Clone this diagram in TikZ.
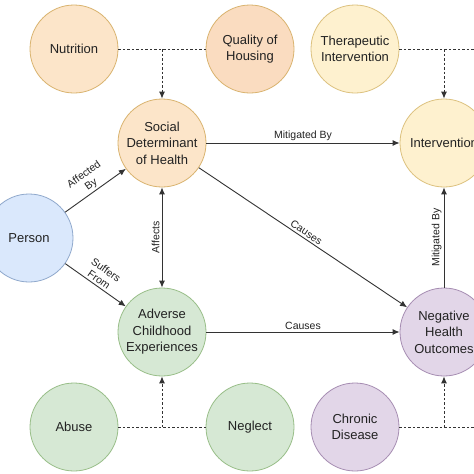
\documentclass[tikz,border=0pt]{standalone}
\usepackage{fontspec}
\setmainfont{Liberation Sans}
\usetikzlibrary{arrows.meta}
\definecolor{orfill}{HTML}{FCE5C9}
\definecolor{orpink}{HTML}{FADCC0}
\definecolor{ordraw}{HTML}{D9B36E}
\definecolor{yefill}{HTML}{FEF1CF}
\definecolor{yedraw}{HTML}{DCC17E}
\definecolor{blfill}{HTML}{DAE8FC}
\definecolor{bldraw}{HTML}{8FA8CC}
\definecolor{grfill}{HTML}{D6E8D4}
\definecolor{grdraw}{HTML}{98BE88}
\definecolor{pufill}{HTML}{E2D6E8}
\definecolor{pudraw}{HTML}{A68DB2}
\definecolor{ink}{HTML}{222222}
\definecolor{edge}{HTML}{333333}
\tikzset{
  circ/.style={circle, minimum size=88pt, inner sep=0pt, line width=0.8pt, align=center,
    text=ink, font=\fontsize{13}{16.5}\selectfont},
  cor/.style={circ, fill=orfill, draw=ordraw},
  corp/.style={circ, fill=orpink, draw=ordraw},
  cye/.style={circ, fill=yefill, draw=yedraw},
  cbl/.style={circ, fill=blfill, draw=bldraw},
  cgr/.style={circ, fill=grfill, draw=grdraw},
  cpu/.style={circ, fill=pufill, draw=pudraw},
  rel/.style={draw=edge, line width=0.9pt, -{Latex[length=7pt,width=6pt]}},
  birel/.style={draw=edge, line width=0.9pt, {Latex[length=7pt,width=6pt]}-{Latex[length=7pt,width=6pt]}},
  dsh/.style={draw=edge, line width=0.9pt, dash pattern=on 2.5pt off 2pt},
  dsharr/.style={dsh, -{Latex[length=7pt,width=6pt]}},
  lbl/.style={font=\fontsize{10.5}{12}\selectfont, text=ink, inner sep=2pt, align=center}
}
\begin{document}
\begin{tikzpicture}[x=1pt, y=-1pt]
\useasboundingbox (0,0) rectangle (474,474);
\clip (0,0) rectangle (474,474);
\fill[white] (0,0) rectangle (474,474);
% nodes
\node[cor]  (nut) at (74,49)  {Nutrition};
\node[corp] (qoh) at (250,49) {Quality of\\Housing};
\node[cye]  (ther) at (355,49) {Therapeutic\\Intervention};
\node[cor]  (sdh) at (162,143) {Social\\Determinant\\of Health};
\node[cye]  (int) at (444,143) {Intervention};
\node[cbl]  (per) at (29,238) {Person};
\node[cgr]  (ace) at (162,332) {Adverse\\Childhood\\Experiences};
\node[cpu]  (nho) at (444,332) {Negative\\Health\\Outcomes};
\node[cgr]  (abu) at (74,427) {Abuse};
\node[cgr]  (neg) at (250,427) {Neglect};
\node[cpu]  (chr) at (355,427) {Chronic\\Disease};
% junction coordinates
\coordinate (j1) at (162,49);
\coordinate (j2) at (444,49);
\coordinate (e2) at (480,49);
\coordinate (j3) at (162,427);
\coordinate (j4) at (444,427);
\coordinate (e4) at (480,427);
% dashed feeders
\draw[dsh] (nut.east) -- (qoh.west);
\draw[dsharr] (j1) -- (sdh.north);
\draw[dsh] (ther.east) -- (e2);
\draw[dsharr] (j2) -- (int.north);
\draw[dsh] (abu.east) -- (neg.west);
\draw[dsharr] (j3) -- (ace.south);
\draw[dsh] (chr.east) -- (e4);
\draw[dsharr] (j4) -- (nho.south);
% relations
\draw[rel] (per) -- node[lbl, midway, above, sloped] {Affected\\By} (sdh);
\draw[rel] (per) -- node[lbl, midway, above, sloped] {Suffers\\From} (ace);
\draw[birel] (ace) -- node[lbl, midway, above, sloped] {Affects} (sdh);
\draw[rel] (sdh) -- node[lbl, midway, above] {Mitigated By} (int);
\draw[rel] (sdh) -- node[lbl, midway, above, sloped] {Causes} (nho);
\draw[rel] (ace) -- node[lbl, midway, above] {Causes} (nho);
\draw[rel] (nho) -- node[lbl, midway, above, sloped] {Mitigated By} (int);
\end{tikzpicture}
\end{document}
